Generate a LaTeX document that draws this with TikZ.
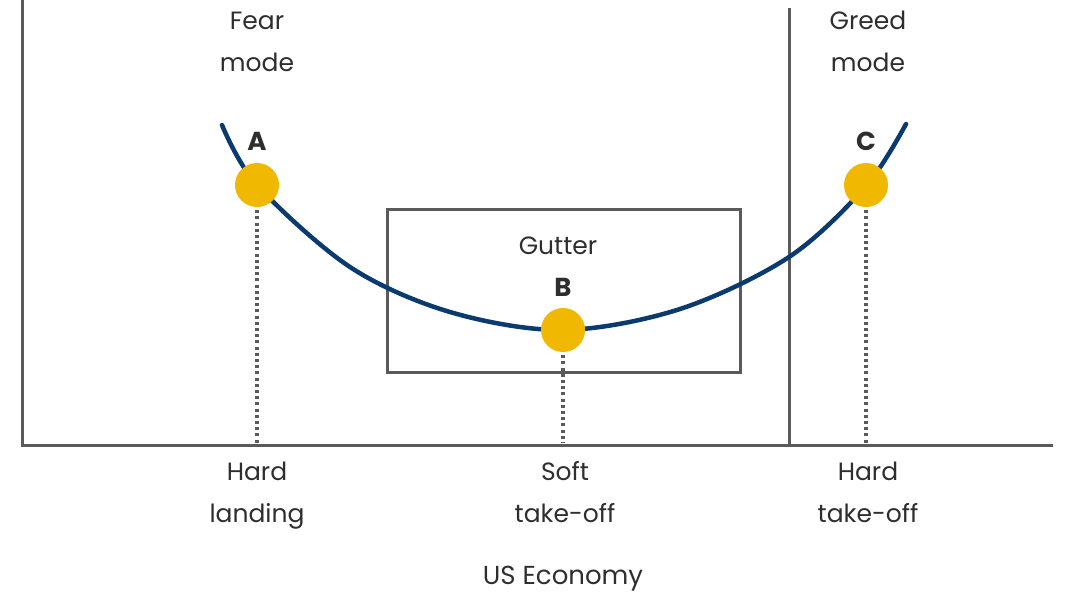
\documentclass[tikz,border=0pt]{standalone}
\usepackage{fontspec}
\setmainfont{Poppins}
\definecolor{axisgray}{HTML}{5A5A5A}
\definecolor{navy}{HTML}{0B3A6E}
\definecolor{gold}{HTML}{F0B800}
\definecolor{txt}{HTML}{2E2E2E}
\begin{document}
\begin{tikzpicture}[x=1pt,y=-1pt,
  axisline/.style={draw=axisgray,line width=3pt},
  guide/.style={draw=axisgray,line width=3.2pt,dash pattern=on 3pt off 3.2pt},
  dotc/.style={circle,fill=gold,draw=none,minimum size=44pt,inner sep=0pt},
  lbl/.style={text=txt,font=\fontsize{25}{42}\selectfont,align=center,inner sep=0pt},
  letter/.style={text=txt,font=\fontsize{26}{28}\selectfont\bfseries,inner sep=0pt}]
\useasboundingbox (0,0) rectangle (1077,600);
% axes
\coordinate (o) at (22,445);
\coordinate (ytop) at (22,0);
\coordinate (xend) at (1053,445);
\coordinate (gtop) at (789,8);
\coordinate (gbot) at (789,445);
\draw[axisline] (ytop) -- (o) -- (xend);
\draw[axisline] (gtop) -- (gbot);
% gutter box
\node[draw=axisgray,line width=3pt,minimum width=353pt,minimum height=163pt,inner sep=0pt] (box) at (563.5,290.5) {};
\node[lbl] (gutter) at (558,246) {Gutter};
% curve
\draw[navy,line width=4.5pt,line cap=round] plot[smooth,tension=0.55] coordinates
  {(222,125) (257,185) (350,267) (450,312) (563,330) (680,309) (789,257) (866,186) (906,124)};
% points
\node[dotc] (A) at (257,185) {};
\node[dotc] (B) at (563,330) {};
\node[dotc] (C) at (866,185) {};
\coordinate (axA) at (257,443);
\coordinate (axB) at (563,443);
\coordinate (axC) at (866,443);
\draw[guide] ([yshift=-3pt]A.south) -- (axA);
\draw[guide] ([yshift=-3pt]B.south) -- (axB);
\draw[guide] ([yshift=-3pt]C.south) -- (axC);
\node[letter] (la) at (257,141) {A};
\node[letter] (lb) at (563,287) {B};
\node[letter] (lc) at (866,141) {C};
% top labels
\node[lbl] (fear) at (257,42) {Fear\\mode};
\node[lbl] (greed) at (868,41) {Greed\\mode};
% bottom labels
\node[lbl] (hl) at (257,496) {Hard\\landing};
\node[lbl] (st) at (565,492) {Soft\\take-off};
\node[lbl] (ht) at (868,492) {Hard\\take-off};
\node[lbl,font=\fontsize{26}{30}\selectfont] (us) at (563,579) {US Economy};
\end{tikzpicture}
\end{document}
